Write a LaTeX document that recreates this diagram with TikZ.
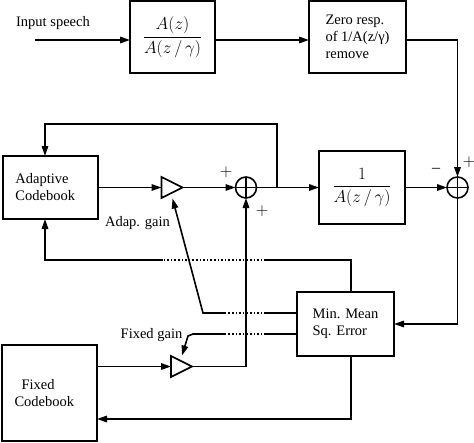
\documentclass[tikz,border=0pt]{standalone}
\usepackage{fontspec}
\setmainfont{Liberation Serif}
\usepackage{amsmath}
\usepackage{tikz}
\usetikzlibrary{positioning, shapes.geometric, calc, arrows.meta}

\begin{document}
\begin{tikzpicture}[x=1pt, y=-1pt, line width=1.6pt,
	every node/.style={font=\fontsize{14.5}{17}\selectfont},
	blk/.style={draw, inner sep=0, outer sep=0},
	frac/.style={font=\fontsize{17}{20}\selectfont},
	sgn/.style={font=\fontsize{16}{18}\selectfont},
	amp/.style={draw, isosceles triangle, isosceles triangle stretches, minimum width=21, minimum height=21, inner sep=0, outer sep=0},
	adder/.style={draw, circle, minimum size=21, inner sep=0, outer sep=0,
		path picture={\draw (path picture bounding box.north) -- (path picture bounding box.south)
			(path picture bounding box.west) -- (path picture bounding box.east);}},
	>={Triangle[length=10pt, width=6.5pt]}]
				\useasboundingbox (0,0) rectangle (474,442);
				%% top row
				\node (speech) at (53,23) {Input speech};
				\coordinate (src) at (35,40);
				\node[blk, frac, minimum width=85, minimum height=72] (pre) at (172.5,37) {$\dfrac{A(z)}{A(z\,/\,\gamma)}$};
				\node[blk, minimum width=97, minimum height=72, align=left] (zir) at (357.5,37) {Zero resp.\\of 1/A(z/γ)\\remove};
				
				%% middle row
				\node[blk, minimum width=95, minimum height=63, text width=70, align=left] (acb) at (50.5,187.5) {Adaptive\\Codebook};
				\node[amp, anchor=apex] (gA) at (182.5,187.5) {};
				\node[adder] (sumA) at (246,187.5) {};
				\node[blk, frac, minimum width=86, minimum height=73] (syn) at (362,187.5) {$\dfrac{1}{A(z\,/\,\gamma)}$};
				\node[adder] (sumB) at (457.5,187.5) {};
				\node[sgn] (pA1) at (226,172) {$+$};
				\node[sgn] (pA2) at (262,211) {$+$};
				\node[sgn] (pB1) at (469,162) {$+$};
				\node[sgn] (mB) at (436,170) {–};
				
				%% bottom part
				\node[blk, minimum width=97, minimum height=64, align=left] (mmse) at (345.5,324) {Min. Mean\\Sq. Error};
				\node[amp, anchor=apex] (gF) at (192,366.5) {};
				\node[blk, minimum width=95, minimum height=96, text width=70, align=left] (fcb) at (49.5,393) {\hspace*{7pt}Fixed\\Codebook};
				\node (adap) at (137.5,223) {Adap. gain};
				\node (fixg) at (151.5,335) {Fixed gain};
				
				%% signal path
				\draw [->] (src) -- (src -| pre.west);
				\draw [->] (src -| pre.east) -- (src -| zir.west);
				\draw [->] (src -| zir.east) -| (sumB.north);
				\draw [->] (acb.east) -- (gA.west);
				\draw [->] (gA.apex) -- (sumA.west);
				\draw [->] (sumA.east) -- (syn.west);
				\draw [->] (syn.east) -- (sumB.west);
				\draw [->] (gF.west -| fcb.east) -- (gF.west);
				\draw [->] (gF.apex) -| (sumA.south);
				\draw [->] (sumB.south) |- (mmse.east);
				
				%% feedback to adaptive codebook
				\coordinate (tap) at (277,187.5);
				\coordinate (fbtop) at (45,124);
				\draw [->] (tap) |- (fbtop) -- (fbtop |- acb.north);
				
				%% error lines
				\coordinate (err) at (351,260);
				\coordinate (dotR) at (266,260);
				\coordinate (dotL) at (163,260);
				\draw (err |- mmse.north) -- (err) -- (dotR);
				\draw [dotted] (dotR) -- (dotL);
				\draw [->] (dotL) -| (fbtop |- acb.south);
				\coordinate (fcbin) at (351,419);
				\draw [->] (err |- mmse.south) -- (fcbin) -- (fcbin -| fcb.east);
				
				%% gain controls
				\coordinate (agR) at (266,313);
				\coordinate (agL) at (225,313);
				\coordinate (agK) at (203,313);
				\coordinate (agT) at ($(gA.apex)+(-10,11)$);
				\draw (mmse.west |- agR) -- (agR);
				\draw [dotted] (agR) -- (agL);
				\draw [->] (agL) -- (agK) -- (agT);
				\coordinate (fgR) at (266,334);
				\coordinate (fgL) at (225,334);
				\coordinate (fgK) at (193,334);
				\coordinate (fgT) at ($(gF.apex)+(-10,-11)$);
				\draw (mmse.west |- fgR) -- (fgR);
				\draw [dotted] (fgR) -- (fgL);
				\draw [->] (fgL) -- (fgK) -- ++(-5,2) -- (fgT);
				\end{tikzpicture}
\end{document}
